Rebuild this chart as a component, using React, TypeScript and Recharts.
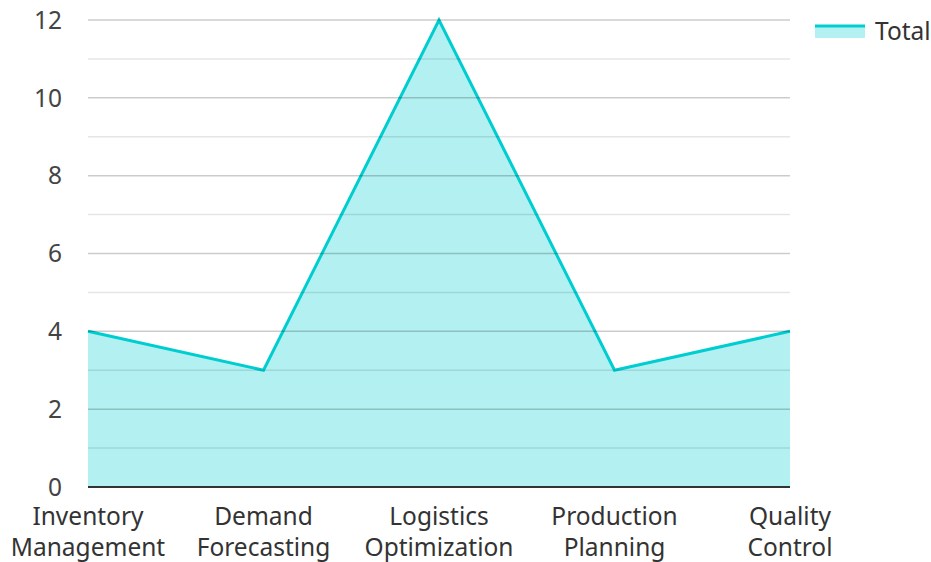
import { AreaChart, Area, XAxis, YAxis, ReferenceLine, Legend } from 'recharts'

const categories = [
  'Inventory Management',
  'Demand Forecasting',
  'Logistics Optimization',
  'Production Planning',
  'Quality Control',
]
const totals = [4, 3, 12, 3, 4]
const yTicks = [0, 2, 4, 6, 8, 10, 12]
const gridValues = [1, 2, 3, 4, 5, 6, 7, 8, 9, 10, 11, 12]
const seriesName = 'Total'

const data = categories.map((name, i) => ({ name, total: totals[i] }))

const TEAL = '#00cdd0'
const FONT = '"Noto Sans", sans-serif'

const WrappedTick = ({ x, y, payload }: any) => {
  const words = String(payload.value).split(' ')
  return (
    <text x={x} y={y} textAnchor="middle" fill="#333" fontSize={24.5} fontFamily={FONT}>
      {words.map((w, i) => (
        <tspan key={w} x={x} dy={i === 0 ? 30 : 31}>
          {w}
        </tspan>
      ))}
    </text>
  )
}

const LegendContent = () => (
  <div style={{ display: 'flex', alignItems: 'center', fontFamily: FONT, fontSize: 24.5, color: '#333' }}>
    <svg width={50} height={16} style={{ marginRight: 10 }}>
      <rect x={0} y={2} width={50} height={13} fill={TEAL} fillOpacity={0.3} />
      <line x1={0} y1={3} x2={50} y2={3} stroke={TEAL} strokeWidth={3} />
    </svg>
    <span>{seriesName}</span>
  </div>
)

export default function App() {
  return (
    <div style={{ position: 'absolute', left: 0, top: 0, width: 931, height: 562, background: '#fff' }}>
      <AreaChart width={931} height={562} data={data} margin={{ top: 20, right: 141, left: 0, bottom: 0 }}>
        <XAxis
          dataKey="name"
          tickLine={false}
          axisLine={{ stroke: '#333', strokeWidth: 2 }}
          height={75}
          interval={0}
          tick={<WrappedTick />}
        />
        <YAxis
          width={88}
          domain={[0, 12]}
          ticks={yTicks}
          axisLine={false}
          tickLine={false}
          tickMargin={20}
          tick={{ fontSize: 24.5, fill: '#444', fontFamily: FONT }}
        />
        <Area
          type="linear"
          dataKey="total"
          name={seriesName}
          stroke={TEAL}
          strokeWidth={3}
          fill={TEAL}
          fillOpacity={0.3}
          dot={false}
          activeDot={false}
          isAnimationActive={false}
        />
        {gridValues.map((v) => (
          <ReferenceLine
            key={v}
            y={v}
            stroke="#000"
            strokeOpacity={v % 2 === 0 ? 0.2 : 0.1}
            strokeWidth={1.5}
            ifOverflow="extendDomain"
          />
        ))}
        <Legend
          layout="horizontal"
          verticalAlign="middle"
          align="center"
          content={<LegendContent />}
          wrapperStyle={{ top: 14, left: 815, width: 120, height: 34 }}
        />
      </AreaChart>
    </div>
  )
}
